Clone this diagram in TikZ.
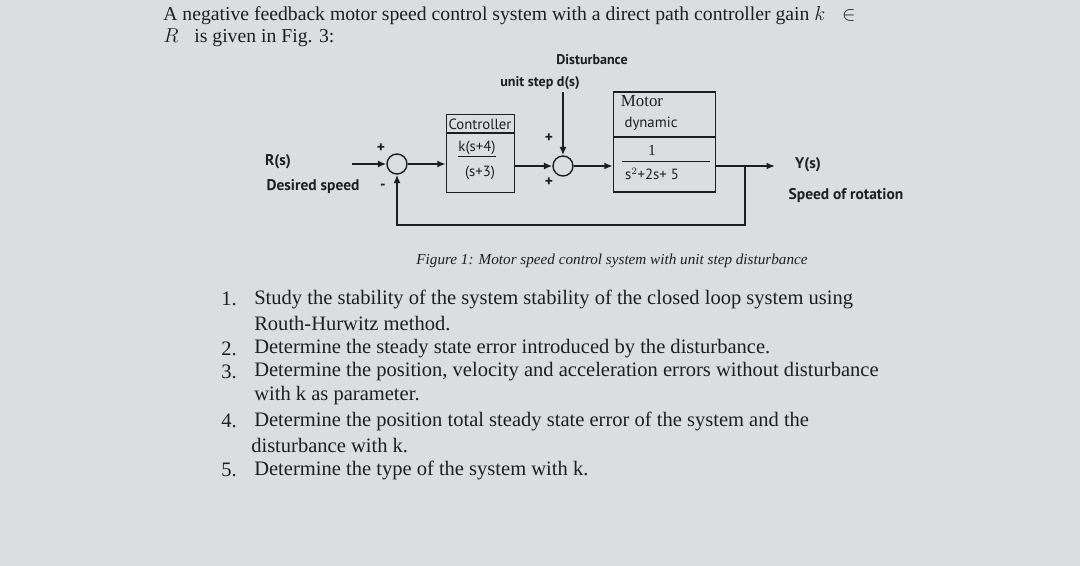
\documentclass[tikz,border=0pt]{standalone}
\usepackage{fontspec}
\setmainfont{Liberation Serif}
\newfontfamily\dfont{PT Sans}
\usetikzlibrary{arrows.meta}
\definecolor{bg}{HTML}{DCDDDF}
\definecolor{ink}{HTML}{1E1E22}
\begin{document}
\begin{tikzpicture}[x=0.025cm,y=-0.025cm,
  txt/.style={anchor=west,inner sep=0,font=\fontsize{14.6}{16}\selectfont,text=ink},
  dl/.style={inner sep=0,font=\dfont\bfseries\fontsize{10}{11}\selectfont,text=ink},
  dlb/.style={dl,font=\dfont\bfseries\fontsize{11}{12}\selectfont},
  blk/.style={draw=ink,line width=1.1pt},
  sum/.style={draw=ink,circle,minimum size=0.5cm,inner sep=0,line width=1pt},
  con/.style={draw=ink,line width=1.5pt},
  arr/.style={con,-{Latex[length=6pt,width=5pt]}}]
\fill[bg] (0,0) rectangle (1080,566);
\useasboundingbox (0,0) rectangle (1080,566);
\node[txt,font=\fontsize{14}{16}\selectfont] (h1) at (163,16) {A negative feedback motor speed control system with a direct path controller gain $k\;\;\in$};
\node[txt,font=\fontsize{14}{16}\selectfont] (h2) at (163,38) {$R$\;\; is given in Fig. 3:};
% diagram
\node[sum] (s1) at (397,164) {};
\node[sum] (s2) at (563,166) {};
\node[blk,minimum width=1.7cm,minimum height=1.95cm] (c) at (480.5,153.5) {};
\draw[blk] (447,133) -- (514,133);
\node[dl,font=\dfont\fontsize{10.5}{11}\selectfont] (ct) at (480,124) {Controller};
\node[dl,font=\dfont\fontsize{10.5}{11}\selectfont] (cn) at (477,149) {\underline{k(s+4)}};
\node[dl,font=\dfont\fontsize{10.5}{11}\selectfont] (cd) at (480,173) {(s+3)};
\node[blk,minimum width=2.55cm,minimum height=2.5cm] (m) at (664.5,142) {};
\draw[blk] (614,137) -- (715,137);
\node[dl,font=\fontsize{12}{13}\selectfont] (mt1) at (642,101) {Motor};
\node[dl,font=\dfont\fontsize{10.5}{11}\selectfont] (mt2) at (651,124) {dynamic};
\node[dl,font=\fontsize{11}{12}\selectfont] (mn) at (652,150) {1};
\draw[ink,line width=0.7pt] (622,161) -- (710,161);
\node[dl,font=\dfont\fontsize{10.5}{11}\selectfont] (md) at (652,174) {s$^2$+2s+ 5};
\node[dl] (dist) at (592,60) {Disturbance};
\node[dl] (dstep) at (540,83) {unit step d(s)};
\coordinate (dtop) at (563,92);
\draw[arr] (dtop) -- (s2);
\node[dlb] (rs) at (278,162) {R(s)};
\node[dlb] (ds) at (313,187) {Desired speed};
\coordinate (rin) at (352,164);
\draw[arr] (rin) -- (s1);
\draw[arr] (s1) -- (c.west|-s1);
\draw[arr] (c.east|-s2) -- (s2);
\draw[arr] (s2) -- (m.west|-s2);
\coordinate (yout) at (775,166);
\coordinate (br) at (745,166);
\draw[arr] (m.east|-s2) -- (yout);
\coordinate (fb1) at (745,225);
\coordinate (fb2) at (397,225);
\draw[arr] (br) -- (fb1) -- (fb2) -- (s1);
\node[dlb] (p1) at (381,148) {+};
\node[dlb] (m1) at (383,187) {-};
\node[dlb] (p2) at (549,138) {+};
\node[dlb] (p3) at (549,182) {+};
\node[dlb] (ys) at (808,165) {Y(s)};
\node[dlb] (sr) at (846,196) {Speed of rotation};
\node[inner sep=0,font=\itshape\fontsize{10.8}{12}\selectfont,text=ink] (cap) at (612,261) {Figure 1: Motor speed control system with unit step disturbance};
% list
\foreach \n/\y/\t in {1./299/Study the stability of the system stability of the closed loop system using,
  2./349/Determine the steady state error introduced by the disturbance.,
  3./372/{Determine the position, velocity and acceleration errors without disturbance},
  4./421/Determine the position total steady state error of the system and the,
  5./470/Determine the type of the system with k.}
  {\node[txt,anchor=east] at (237,\y) {\n}; \node[txt] at (254,\y) {\t};}
\node[txt] (l1b) at (254,324) {Routh-Hurwitz method.};
\node[txt] (l3b) at (254,396) {with k as parameter.};
\node[txt] (l4b) at (251,446) {disturbance with k.};
\end{tikzpicture}
\end{document}
